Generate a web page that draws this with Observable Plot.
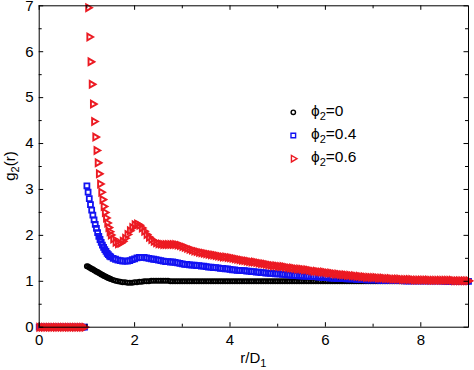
<!DOCTYPE html>
<html><head><meta charset="utf-8">
<script src="https://cdn.jsdelivr.net/npm/d3@7"></script>
<script src="https://cdn.jsdelivr.net/npm/@observablehq/plot@0.6"></script>
<style>body{margin:0;background:#fff;} #chart{width:474px;height:370px;}</style>
</head><body><div id="chart"></div>
<script>
// ---- sampling positions r/D1 ----
const rZero = [0,0.05,0.1,0.15,0.2,0.25,0.3,0.35,0.4,0.45,0.5,0.55,0.6,0.65,0.7,0.75,0.8,0.85,0.9,0.95];
const rNear = [1,1.025,1.05,1.075,1.1,1.125,1.15,1.175,1.2,1.225,1.25,1.275,1.3,1.325,1.35,1.375,1.4,1.425,1.45,1.475,1.5];
const rFar = [1.55,1.6,1.65,1.7,1.75,1.8,1.85,1.9,1.95,
  2,2.05,2.1,2.15,2.2,2.25,2.3,2.35,2.4,2.45,2.5,2.55,2.6,2.65,2.7,2.75,2.8,2.85,2.9,2.95,
  3,3.05,3.1,3.15,3.2,3.25,3.3,3.35,3.4,3.45,3.5,3.55,3.6,3.65,3.7,3.75,3.8,3.85,3.9,3.95,
  4,4.05,4.1,4.15,4.2,4.25,4.3,4.35,4.4,4.45,4.5,4.55,4.6,4.65,4.7,4.75,4.8,4.85,4.9,4.95,
  5,5.05,5.1,5.15,5.2,5.25,5.3,5.35,5.4,5.45,5.5,5.55,5.6,5.65,5.7,5.75,5.8,5.85,5.9,5.95,
  6,6.05,6.1,6.15,6.2,6.25,6.3,6.35,6.4,6.45,6.5,6.55,6.6,6.65,6.7,6.75,6.8,6.85,6.9,6.95,
  7,7.05,7.1,7.15,7.2,7.25,7.3,7.35,7.4,7.45,7.5,7.55,7.6,7.65,7.7,7.75,7.8,7.85,7.9,7.95,
  8,8.05,8.1,8.15,8.2,8.25,8.3,8.35,8.4,8.45,8.5,8.55,8.6,8.65,8.7,8.75,8.8,8.85,8.9,8.95,
  9];

// ---- g2(r), phi2 = 0 ----
const gPhi0 = [
  0,0,0,0,0,0,0,0,0,0,0,0,0,0,0,0,0,0,0,0,
  1.33,1.32,1.30,1.29,1.27,1.26,1.24,1.23,1.21,1.20,1.18,1.17,1.15,1.14,1.12,1.11,1.10,1.08,1.07,1.06,1.05,
  1.03,1.01,1.00,0.99,0.98,0.98,0.97,0.97,0.97,
  0.98,0.98,0.99,0.99,1.00,1.00,1.00,1.01,1.01,1.01,
  1.01,1.01,1.01,1.01,1.01,1.00,1.00,1.00,1.00,1.00,
  1.00,1.00,1.00,1.00,1.00,1.00,1.00,1.00,1.00,1.00,
  1.00,1.00,1.00,1.00,1.00,1.00,1.00,1.00,1.00,1.00,
  1.00,1.00,1.00,1.00,1.00,1.00,1.00,1.00,1.00,1.00,
  1.00,1.00,1.00,1.00,1.00,1.00,1.00,1.00,1.00,1.00,
  1.00,1.00,1.00,1.00,1.00,1.00,1.00,1.00,1.00,1.00,
  1.00,1.00,1.00,1.00,1.00,1.00,1.00,1.00,1.00,1.00,
  1.00,1.00,1.00,1.00,1.00,1.00,1.00,1.00,1.00,1.00,
  1.00,1.00,1.00,1.00,1.00,1.00,1.00,1.00,1.00,1.00,
  1.00,1.00,1.00,1.00,1.00,1.00,1.00,1.00,1.00,1.00,
  1.00,1.00,1.00,1.00,1.00,1.00,1.00,1.00,1.00,1.00,
  1.00,1.00,1.00,1.00,1.00,1.00,1.00,1.00,1.00,1.00,
  1.00,1.00,1.00,1.00,1.00,1.00,1.00,1.00,1.00,1.00,
  1.00];

// ---- g2(r), phi2 = 0.4 ----
const gPhi04 = [
  0,0,0,0,0,0,0,0,0,0,0,0,0,0,0,0,0,0,0,0,
  3.08,2.94,2.80,2.67,2.55,2.44,2.34,2.24,2.15,2.06,1.98,1.91,1.85,1.79,1.74,1.69,1.65,1.61,1.58,1.55,1.53,
  1.50,1.48,1.46,1.45,1.44,1.44,1.44,1.45,1.47,
  1.49,1.51,1.52,1.52,1.52,1.51,1.50,1.49,1.48,1.47,
  1.46,1.45,1.44,1.43,1.43,1.42,1.42,1.41,1.40,1.39,
  1.38,1.37,1.37,1.36,1.35,1.35,1.34,1.34,1.33,1.33,
  1.32,1.31,1.31,1.30,1.30,1.29,1.28,1.28,1.27,1.27,
  1.26,1.25,1.25,1.24,1.24,1.23,1.23,1.22,1.22,1.21,
  1.21,1.20,1.20,1.19,1.19,1.18,1.18,1.17,1.17,1.16,
  1.16,1.16,1.15,1.15,1.14,1.14,1.13,1.13,1.13,1.12,
  1.12,1.11,1.11,1.11,1.10,1.10,1.10,1.09,1.09,1.08,
  1.08,1.08,1.07,1.07,1.07,1.06,1.06,1.06,1.06,1.05,
  1.05,1.05,1.05,1.04,1.04,1.04,1.04,1.03,1.03,1.03,
  1.03,1.03,1.03,1.02,1.02,1.02,1.02,1.02,1.02,1.02,
  1.02,1.02,1.02,1.01,1.01,1.01,1.01,1.01,1.01,1.01,
  1.01,1.01,1.01,1.01,1.01,1.01,1.01,1.01,1.01,1.01,
  1.00,1.00,1.00,1.00,1.00,1.00,1.00,1.00,1.00,1.00,
  1.00];

// ---- g2(r), phi2 = 0.6 (first point above 7, off the chart) ----
const gPhi06 = [
  0,0,0,0,0,0,0,0,0,0,0,0,0,0,0,0,0,0,0,0,
  null,6.96,6.32,5.78,5.29,4.86,4.48,4.14,3.85,3.58,3.34,3.12,2.94,2.78,2.63,2.50,2.38,2.27,2.17,2.08,2.01,
  1.92,1.85,1.82,1.83,1.87,1.94,2.02,2.10,2.17,
  2.23,2.25,2.22,2.16,2.09,2.02,1.96,1.91,1.87,1.84,
  1.82,1.81,1.80,1.80,1.80,1.80,1.80,1.80,1.79,1.78,
  1.76,1.74,1.72,1.70,1.68,1.66,1.65,1.63,1.62,1.61,
  1.60,1.59,1.58,1.57,1.56,1.55,1.54,1.53,1.53,1.52,
  1.51,1.50,1.49,1.48,1.47,1.46,1.45,1.44,1.43,1.42,
  1.42,1.41,1.40,1.39,1.38,1.37,1.36,1.35,1.34,1.34,
  1.33,1.32,1.32,1.31,1.30,1.29,1.29,1.28,1.27,1.27,
  1.26,1.25,1.25,1.24,1.23,1.22,1.22,1.21,1.20,1.20,
  1.19,1.18,1.18,1.17,1.16,1.16,1.15,1.14,1.14,1.13,
  1.13,1.12,1.12,1.11,1.11,1.10,1.10,1.09,1.09,1.08,
  1.08,1.08,1.07,1.07,1.07,1.06,1.06,1.06,1.05,1.05,
  1.05,1.05,1.04,1.04,1.04,1.04,1.04,1.03,1.03,1.03,
  1.03,1.03,1.03,1.03,1.02,1.02,1.02,1.02,1.02,1.02,
  1.02,1.02,1.02,1.02,1.01,1.01,1.01,1.01,1.01,1.01,
  1.01];

// ---- axes ----
const xMajorTicks = [0,2,4,6,8];
const xMinorTicks = [1,3,5,7];
const yMajorTicks = [0,1,2,3,4,5,6,7];
const yMinorTicks = [0.5,1.5,2.5,3.5,4.5,5.5,6.5];
const legendLabels = ["0","0.4","0.6"];

const r = [...rZero, ...rNear, ...rFar];
const rows = g => r.map((x, i) => ({r: x, g: g[i]})).filter(d => d.g != null);

const RED = "#ec1a22", BLUE = "#1212f2", BLACK = "#000";
const triRight = {
  draw(ctx, size) {
    const s = Math.sqrt(size) * 0.6824, t = s / 2, u = s * Math.sqrt(3) / 2;
    ctx.moveTo(s, 0); ctx.lineTo(-t, u); ctx.lineTo(-t, -u); ctx.closePath();
  }
};

const W = 474, H = 370, ML = 38.7, MR = 6, MT = 5.3, MB = 43.3;
const FW = W - ML - MR, FH = H - MT - MB;
const BIG = 4.5, SMALL = 3;

const chart = Plot.plot({
  width: W, height: H,
  marginLeft: ML, marginRight: MR, marginTop: MT, marginBottom: MB,
  style: {fontFamily: "'Liberation Sans', Arial, sans-serif", fontSize: "15px", background: "#fff", color: "#000"},
  x: {domain: [0, 9], label: null},
  y: {domain: [0, 7], label: null},
  marks: [
    Plot.dot(rows(gPhi0), {x: "r", y: "g", symbol: "circle", r: 2.2, stroke: BLACK, strokeWidth: 1.6, fill: "none"}),
    Plot.dot(rows(gPhi04), {x: "r", y: "g", symbol: "square", r: 2.8, stroke: BLUE, strokeWidth: 1.8, fill: "none"}),
    Plot.dot(rows(gPhi06), {x: "r", y: "g", symbol: triRight, r: 3.2, stroke: RED, strokeWidth: 1.9, fill: "none"}),
    // inward ticks on all four sides
    Plot.ruleX(xMajorTicks, {x: d => d, insetTop: FH - BIG, stroke: "#000"}),
    Plot.ruleX(xMinorTicks, {x: d => d, insetTop: FH - SMALL, stroke: "#000"}),
    Plot.ruleX(xMajorTicks, {x: d => d, insetBottom: FH - BIG, stroke: "#000"}),
    Plot.ruleX(xMinorTicks, {x: d => d, insetBottom: FH - SMALL, stroke: "#000"}),
    Plot.ruleY(yMajorTicks, {y: d => d, insetRight: FW - BIG, stroke: "#000"}),
    Plot.ruleY(yMinorTicks, {y: d => d, insetRight: FW - SMALL, stroke: "#000"}),
    Plot.ruleY(yMajorTicks, {y: d => d, insetLeft: FW - BIG, stroke: "#000"}),
    Plot.ruleY(yMinorTicks, {y: d => d, insetLeft: FW - SMALL, stroke: "#000"}),
    Plot.axisX(xMajorTicks, {anchor: "bottom", tickSize: 0, tickPadding: 7.6, label: null}),
    Plot.axisY(yMajorTicks, {anchor: "left", tickSize: 0, tickPadding: 5.5, label: null}),
    Plot.frame({stroke: "#000", strokeWidth: 1})
  ]
});
document.getElementById("chart").appendChild(chart);

const svg = d3.select(chart);
const xs = chart.scale("x"), ys = chart.scale("y");
const cx = (xs.range[0] + xs.range[1]) / 2, cy = (ys.range[0] + ys.range[1]) / 2;

// x-axis title r/D1
const xt = svg.append("text").attr("x", cx).attr("y", 362.5).attr("text-anchor", "middle")
  .attr("font-size", 15).attr("fill", "#000");
xt.append("tspan").text("r/D");
xt.append("tspan").attr("font-size", 11).attr("dy", 4).text("1");

// y-axis title g2(r)
const yt = svg.append("text").attr("transform", `translate(14.5,${cy}) rotate(-90)`)
  .attr("text-anchor", "middle").attr("font-size", 15).attr("fill", "#000");
yt.append("tspan").text("g");
yt.append("tspan").attr("font-size", 11).attr("dy", 4).text("2");
yt.append("tspan").attr("dy", -4).text("(r)");

// legend
const legendSymbols = [
  {type: d3.symbolCircle, r: 2.2, color: BLACK},
  {type: d3.symbolSquare, r: 2.6, color: BLUE},
  {type: triRight, r: 3.1, color: RED}
];
const lg = svg.append("g");
legendLabels.forEach((lab, i) => {
  const yb = 115.8 + i * 23.2;
  const s = legendSymbols[i];
  lg.append("path").attr("d", d3.symbol(s.type, Math.PI * s.r * s.r)())
    .attr("transform", `translate(293.3,${yb - 3.5})`)
    .attr("fill", "none").attr("stroke", s.color).attr("stroke-width", 1.4);
  const t = lg.append("text").attr("x", 311).attr("y", yb).attr("text-anchor", "start")
    .attr("font-size", 15.5).attr("fill", "#000");
  t.append("tspan").text("ϕ");
  t.append("tspan").attr("font-size", 11).attr("dy", 4).text("2");
  t.append("tspan").attr("dy", -4).text("=" + lab);
});
</script>
</body></html>
